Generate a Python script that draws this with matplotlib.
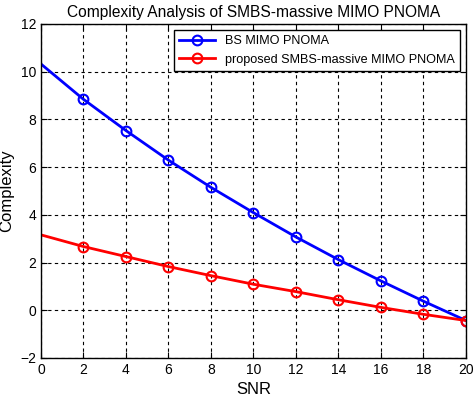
import numpy as np
import matplotlib.pyplot as plt

plt.rcParams['font.family'] = ['Liberation Sans', 'DejaVu Sans']

# data
snr = [0, 2, 4, 6, 8, 10, 12, 14, 16, 18, 20]
bs_mimo = [10.32, 8.84, 7.53, 6.29, 5.15, 4.09, 3.07, 2.12, 1.23, 0.38, -0.43]
smbs_mimo = [3.16, 2.67, 2.25, 1.83, 1.45, 1.09, 0.78, 0.44, 0.12, -0.17, -0.43]

fig = plt.figure(figsize=(4.74, 3.99), dpi=100)
ax = fig.add_axes([0.0865, 0.1028, 0.8965, 0.8372])

ax.plot(snr, bs_mimo, c='#0000ff', lw=2, marker='o', mfc='none', mew=1.5,
        ms=7, markevery=list(range(1, 11)), label='BS MIMO PNOMA')
ax.plot(snr, smbs_mimo, c='#ff0000', lw=2, marker='o', mfc='none', mew=1.5,
        ms=7, markevery=list(range(1, 11)), label='proposed SMBS-massive MIMO PNOMA')

ax.set_xlim(0, 20)
ax.set_ylim(-2, 12)
ax.set_xticks(range(0, 21, 2))
ax.set_yticks(range(-2, 13, 2))
ax.tick_params(direction='in', labelsize=10, top=True, right=True, length=4)
ax.grid(True, color='k', ls=(0, (3, 3)), lw=0.8)
for s in ax.spines.values():
    s.set_linewidth(1)

ax.set_xlabel('SNR', fontsize=12)
ax.set_ylabel('Complexity', fontsize=12)
ax.set_title('Complexity Analysis of SMBS-massive MIMO PNOMA', fontsize=11.2, pad=5)

leg = ax.legend(loc='upper right', fontsize=9.1, fancybox=False, framealpha=1,
                edgecolor='k', handlelength=2.8, borderaxespad=0.5)
leg.get_frame().set_linewidth(1)

plt.savefig('out.png', dpi=100)
